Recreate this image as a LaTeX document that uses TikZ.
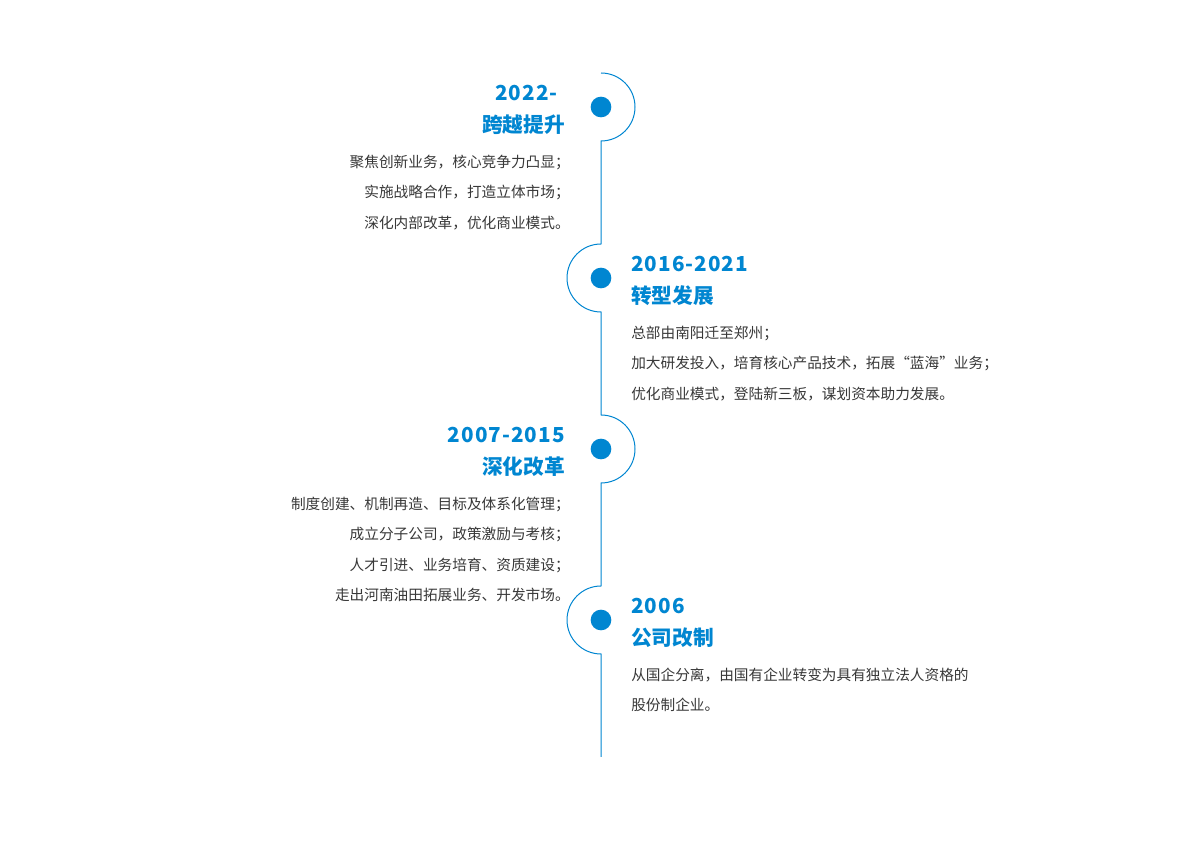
\documentclass[tikz,border=0pt]{standalone}
\usepackage{fontspec}
\setmainfont{Noto Sans CJK SC}
\newfontfamily\yearfont[LetterSpace=5]{Noto Sans CJK SC}
\usetikzlibrary{positioning, calc}
\definecolor{lineBlue}{RGB}{0,134,209}
\colorlet{dotColor}{lineBlue}
\colorlet{textColor}{black!78}
\tikzstyle{dot}=[circle, fill=dotColor, inner sep=0pt, minimum size=15.5pt]
\tikzstyle{timeLine}=[draw=lineBlue, line width=0.75pt]
\tikzstyle{yearText}=[text=dotColor, inner sep=0pt, font=\fontsize{15.5pt}{18pt}\yearfont\bfseries]
\tikzstyle{nameText}=[text=dotColor, inner sep=0pt, font=\fontsize{15.5pt}{18pt}\selectfont\bfseries]
\tikzstyle{bodyText}=[text=textColor, inner sep=0pt, font=\fontsize{11pt}{13pt}\selectfont]
\tikzstyle{yearLeft}=[yearText, anchor=base east]
\tikzstyle{yearRight}=[yearText, anchor=base west]

\begin{document}
\begin{tikzpicture}[x=0.75pt, y=0.75pt]
  \path[use as bounding box, fill=white] (0,0) rectangle (1200,860);
  % dots on the time line
  \node (d1) [dot] at (601,753) {};
  \node (d2) [dot] at (601,582) {};
  \node (d3) [dot] at (601,411) {};
  \node (d4) [dot] at (601,240) {};
  \coordinate (a1) at ($(d1)+(0,34)$);
  \coordinate (a2) at ($(d2)+(0,34)$);
  \coordinate (a3) at ($(d3)+(0,34)$);
  \coordinate (a4) at ($(d4)+(0,34)$);
  \coordinate (lineEnd) at (601,103);
  % time line with half circles
  \draw [timeLine] (a1) arc[start angle=90, end angle=-90, radius=34] -- (a2)
    arc[start angle=90, end angle=270, radius=34] -- (a3)
    arc[start angle=90, end angle=-90, radius=34] -- (a4)
    arc[start angle=90, end angle=270, radius=34] -- (lineEnd);

  % 2022-
  \node (y1) [yearLeft] at ($(d1)+(-43,6)$) {2022-};
  \node (n1) [nameText, below=23.7pt of y1.base east, anchor=base east, xshift=5.25pt] {跨越提升};
  \node (b1a) [bodyText, below=26pt of n1.base east, anchor=base east, xshift=3.75pt] {聚焦创新业务，核心竞争力凸显；};
  \node (b1b) [bodyText, below=22.9pt of b1a.base east, anchor=base east] {实施战略合作，打造立体市场；};
  \node (b1c) [bodyText, below=22.9pt of b1b.base east, anchor=base east] {深化内部改革，优化商业模式。};

  % 2016-2021
  \node (y2) [yearRight] at ($(d2)+(30,6)$) {2016-2021};
  \node (n2) [nameText, below=23.7pt of y2.base west, anchor=base west] {转型发展};
  \node (b2a) [bodyText, below=26pt of n2.base west, anchor=base west] {总部由南阳迁至郑州；};
  \node (b2b) [bodyText, below=22.9pt of b2a.base west, anchor=base west] {加大研发投入，培育核心产品技术，拓展“蓝海”业务；};
  \node (b2c) [bodyText, below=22.9pt of b2b.base west, anchor=base west] {优化商业模式，登陆新三板，谋划资本助力发展。};

  % 2007-2015
  \node (y3) [yearLeft] at ($(d3)+(-36,6)$) {2007-2015};
  \node (n3) [nameText, below=23.7pt of y3.base east, anchor=base east] {深化改革};
  \node (b3a) [bodyText, below=26pt of n3.base east, anchor=base east, xshift=3.75pt] {制度创建、机制再造、目标及体系化管理；};
  \node (b3b) [bodyText, below=22.9pt of b3a.base east, anchor=base east] {成立分子公司，政策激励与考核；};
  \node (b3c) [bodyText, below=22.9pt of b3b.base east, anchor=base east] {人才引进、业务培育、资质建设；};
  \node (b3d) [bodyText, below=22.9pt of b3c.base east, anchor=base east] {走出河南油田拓展业务、开发市场。};

  % 2006
  \node (y4) [yearRight] at ($(d4)+(30,6)$) {2006};
  \node (n4) [nameText, below=23.7pt of y4.base west, anchor=base west] {公司改制};
  \node (b4a) [bodyText, below=26pt of n4.base west, anchor=base west] {从国企分离，由国有企业转变为具有独立法人资格的};
  \node (b4b) [bodyText, below=22.9pt of b4a.base west, anchor=base west] {股份制企业。};
\end{tikzpicture}
\end{document}
